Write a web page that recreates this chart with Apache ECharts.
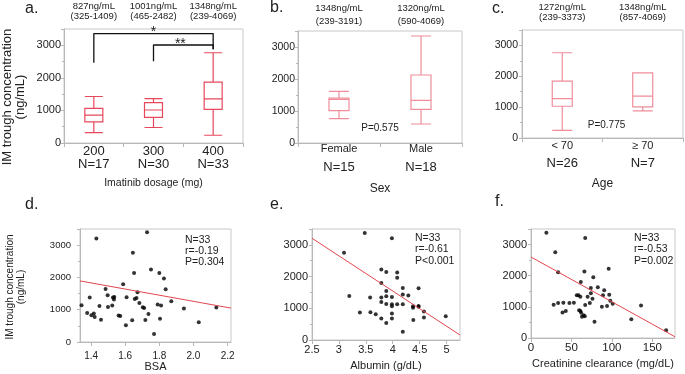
<!DOCTYPE html>
<html>
<head>
<meta charset="utf-8">
<script src="https://cdn.jsdelivr.net/npm/echarts@6/dist/echarts.min.js"></script>
<style>
html, body { margin: 0; padding: 0; background: #fff; }
#chart { width: 685px; height: 374px; }
</style>
</head>
<body>
<div id="chart"></div>
<script>
// panel a - dose groups
var doseCats = ['200', '300', '400'];
var doseN = ['N=17', 'N=30', 'N=33'];
var doseSummary = ['827ng/mL\n(325-1409)', '1001ng/mL\n(465-2482)', '1348ng/mL\n(239-4069)'];
var doseBox = [[320, 651, 858, 1065, 1427], [476, 786, 1013, 1241, 1365], [238, 1034, 1355, 1872, 2771]];
var bracketOne = [[0, 2460], [0, 3360], [2, 3360], [2, 2875]];
var bracketTwo = [[1, 2513], [1, 3009], [2, 3009], [2, 2875]];

// panel b - sex
var sexCats = ['Female', 'Male'];
var sexN = ['N=15', 'N=18'];
var sexSummary = ['1348ng/mL\n(239-3191)', '1320ng/mL\n(590-4069)'];
var sexBox = [[760, 1010, 1365, 1406, 1615], [594, 1052, 1333, 2125, 3344]];

// panel c - age
var ageCats = ['< 70', '\u2265 70'];
var ageN = ['N=26', 'N=7'];
var ageSummary = ['1272ng/mL\n(239-3373)', '1348ng/mL\n(857-4069)'];
var ageBox = [[249, 1029, 1278, 1842, 2762], [878, 1008, 1354, 2113, 2113]];

// panel d - BSA
var bsaX = [1.344, 1.377, 1.392, 1.402, 1.416, 1.421, 1.431, 1.449, 1.458, 1.485, 1.497, 1.499, 1.524, 1.528, 1.534,
  1.536, 1.561, 1.571, 1.588, 1.604, 1.608, 1.641, 1.645, 1.652, 1.656, 1.666, 1.672, 1.683, 1.703, 1.711, 1.718,
  1.728, 1.736, 1.751, 1.769, 1.790, 1.800, 1.804, 1.810, 1.827, 1.837, 1.870, 1.944, 2.031, 2.134];
var bsaY = [1138, 900, 1375, 827, 879, 776, 3206, 1117, 693, 1644, 1448, 1086, 1127, 1375, 1313,
  1396, 817, 807, 1789, 517, 1386, 672, 2761, 2141, 1334, 1365, 1541, 1210, 1075, 1055, 683,
  3402, 869, 2244, 248, 1158, 2141, 724, 1127, 1965, 1634, 1262, 1034, 610, 1065];
var bsaFit = [[1.335, 1892], [2.22, 1050]];

// panel e - albumin
var albX = [3.095, 3.193, 3.39, 3.48, 3.58, 3.586, 3.684, 3.788, 3.788, 3.788, 3.788, 3.788, 3.88, 3.88, 3.88,
  3.88, 3.88, 3.985, 3.985, 3.985, 3.985, 3.985, 3.985, 4.083, 4.083, 4.083, 4.187, 4.187, 4.187, 4.187,
  4.29, 4.377, 4.377, 4.383, 4.48, 4.48, 4.48, 4.58, 4.58, 4.985];
var albY = [2748, 1390, 867, 3375, 1337, 878, 815, 2226, 1797, 1337, 1202, 679, 2142, 1546, 1379,
  1139, 533, 3208, 1358, 1128, 1066, 836, 679, 2132, 1965, 1128, 1640, 1432, 1128, 261,
  1400, 1066, 1014, 627, 1630, 1076, 1045, 899, 711, 752];
var albFit = [[2.5, 3208], [5.25, 157]];

// panel f - creatinine clearance
var crclX = [19, 30, 28, 33.5, 33.5, 40, 39, 43, 47.5, 53, 56.6, 58.7, 61, 59.5, 61, 62, 61.6, 63, 65, 66.5, 66,
  67, 67, 70, 72.7, 74, 74, 76, 77, 78.5, 82.6, 87.6, 89, 90.5, 94, 96, 96.7, 98, 101, 124, 136, 167];
var crclY = [3377, 2751, 1068, 1122, 2114, 1133, 820, 863, 1122, 1133, 1370, 1370, 1327, 895, 863, 809, 1801,
  680, 734, 701, 2136, 3215, 1057, 1327, 1122, 1607, 1435, 1262, 1952, 518, 1629, 1003, 1370, 1532, 1025,
  2222, 1392, 1197, 1100, 604, 1046, 248];
var crclFit = [[0, 2600], [178, 40]];

var statsText = ['N=33\nr=-0.19\nP=0.304', 'N=33\nr=-0.61\nP<0.001', 'N=33\nr=-0.53\nP=0.002'];
var yTitle = 'IM trough concentration\n(ng/mL)';

var FONT = '"Liberation Sans", Arial, sans-serif';
var AX = '#b8b8b8';
var TXT = '#222';

function zip(xs, ys) {
  var res = [];
  for (var i = 0; i < xs.length; i++) res.push([xs[i], ys[i]]);
  return res;
}

function grid(l, t, w, h) {
  return { left: l, top: t, width: w, height: h, show: true, borderColor: '#c8c8c8', borderWidth: 1, backgroundColor: 'transparent' };
}

function concAxis(g, fs, margin) {
  return {
    type: 'value', gridIndex: g, min: 0, max: 3500, interval: 1000,
    axisLine: { show: true, lineStyle: { color: AX } },
    axisTick: { show: true, length: 3, lineStyle: { color: AX } },
    minorTick: { show: true, splitNumber: 2, length: 2, lineStyle: { color: AX } },
    splitLine: { show: false },
    axisLabel: { fontFamily: FONT, fontSize: fs, color: TXT, margin: margin,
      formatter: function (v) { return v > 3000 ? '' : String(v); } }
  };
}

function catAxis(g, cats, ns, lh1, fs1, lh2, margin, name, nameFs, nameGap) {
  return {
    type: 'category', gridIndex: g, data: cats,
    axisLine: { show: true, lineStyle: { color: AX } },
    axisTick: { show: true, length: 4, lineStyle: { color: AX } },
    axisLabel: {
      interval: 0, hideOverlap: false,
      margin: margin, color: TXT, fontFamily: FONT,
      formatter: function (v, i) { return '{a|' + v + '}\n{n|' + ns[i] + '}'; },
      rich: {
        a: { fontFamily: FONT, fontSize: fs1, lineHeight: lh1, color: TXT },
        n: { fontFamily: FONT, fontSize: 13, lineHeight: lh2, color: TXT }
      }
    },
    name: name, nameLocation: 'middle', nameGap: nameGap,
    nameTextStyle: { fontFamily: FONT, fontSize: nameFs, color: TXT }
  };
}

function topAxis(g, labels, lh, margin) {
  return {
    type: 'category', gridIndex: g, position: 'top', data: labels,
    axisLine: { show: false }, axisTick: { show: false },
    axisLabel: { interval: 0, hideOverlap: false, margin: margin, fontFamily: FONT, fontSize: 9.5, lineHeight: lh, color: TXT }
  };
}

function valAxis(g, min, max, ticks, fs, margin, name, nameGap, fmt) {
  return {
    type: 'value', gridIndex: g, min: min, max: max,
    axisLine: { show: true, lineStyle: { color: AX } },
    axisTick: { show: true, length: 4, customValues: ticks, lineStyle: { color: AX } },
    splitLine: { show: false },
    axisLabel: { customValues: ticks, fontFamily: FONT, fontSize: fs, color: TXT, margin: margin,
      formatter: fmt || function (v) { return String(v); } },
    name: name, nameLocation: 'middle', nameGap: nameGap,
    nameTextStyle: { fontFamily: FONT, fontSize: 11, color: TXT }
  };
}

function boxSeries(ax, data, color, w) {
  return {
    type: 'boxplot', xAxisIndex: ax, yAxisIndex: ax, data: data, boxWidth: [w, w],
    itemStyle: { color: '#fff', borderColor: color, borderWidth: 1.2 },
    silent: true
  };
}

function lineSeries(ax, data, color, width) {
  return {
    type: 'line', xAxisIndex: ax, yAxisIndex: ax, data: data, symbol: 'none', silent: true,
    lineStyle: { color: color, width: width }
  };
}

function dotSeries(ax, data) {
  return {
    type: 'scatter', xAxisIndex: ax, yAxisIndex: ax, data: data, symbolSize: 4,
    itemStyle: { color: '#000' }, silent: true
  };
}

var chart = echarts.init(document.getElementById('chart'), null, { renderer: 'canvas' });

var oneDec = function (v) { return v.toFixed(1); };

chart.setOption({
  animation: false,
  grid: [
    grid(64, 29, 179, 114),
    grid(298, 31, 164, 112),
    grid(522, 30, 161, 108),
    grid(80, 229, 151, 113),
    grid(312, 229, 148, 111),
    grid(531, 229, 144, 109)
  ],
  xAxis: [
    catAxis(0, doseCats, doseN, 12, 13, 14, 2, 'Imatinib dosage (mg)', 10.5, 35),
    catAxis(1, sexCats, sexN, 12, 11, 24, 0, 'Sex', 12, 40),
    catAxis(2, ageCats, ageN, 12, 11, 22, 2, 'Age', 12, 40),
    valAxis(3, 1.335, 2.22, [1.4, 1.6, 1.8, 2.0, 2.2], 10, 9, 'BSA', 19, oneDec),
    valAxis(4, 2.5, 5.25, [2.5, 3, 3.5, 4, 4.5, 5], 11, 4, 'Albumin (g/dL)', 20),
    valAxis(5, 0, 178, [0, 50, 100, 150], 11.5, 4, 'Creatinine clearance (mg/dL)', 20),
    topAxis(0, doseSummary, 10, 8),
    topAxis(1, sexSummary, 13, 3.5),
    topAxis(2, ageSummary, 10, 7.5)
  ],
  yAxis: [
    concAxis(0, 11, 3),
    concAxis(1, 10.5, 3),
    concAxis(2, 10.5, 4),
    concAxis(3, 9.5, 9),
    concAxis(4, 11, 4),
    concAxis(5, 11, 4)
  ],
  series: [
    boxSeries(0, doseBox, '#e8485c', 18),
    lineSeries(0, bracketOne, '#111', 1.3),
    lineSeries(0, bracketTwo, '#111', 1.3),
    boxSeries(1, sexBox, '#ef8d9a', 20),
    boxSeries(2, ageBox, '#ef8d9a', 20),
    dotSeries(3, zip(bsaX, bsaY)),
    lineSeries(3, bsaFit, '#e0464f', 1),
    dotSeries(4, zip(albX, albY)),
    lineSeries(4, albFit, '#e0464f', 1),
    dotSeries(5, zip(crclX, crclY)),
    lineSeries(5, crclFit, '#e0464f', 1)
  ]
});

// annotations placed from the axes
function px(ax, pt) { return chart.convertToPixel({ xAxisIndex: ax, yAxisIndex: ax }, pt); }
function mid(ax, a, b, y) {
  var p = px(ax, [a, y]), q = px(ax, [b, y]);
  return [(p[0] + q[0]) / 2, p[1]];
}
function txt(x, y, s, fs, align, vAlign, lh, rot) {
  return { type: 'text', x: x, y: y, rotation: rot || 0, silent: true,
    style: { text: s, fontFamily: FONT, fontSize: fs, fill: TXT, align: align || 'left',
      verticalAlign: vAlign || 'middle', lineHeight: lh || fs } };
}

var star1 = mid(0, 0, 2, 3360);
var star2 = mid(0, 1, 2, 3009);
var pSex = mid(1, 0, 1, 450);
var pAge = mid(2, 0, 1, 420);

chart.setOption({
  graphic: [
    txt(25, 9, 'a.', 16),
    txt(270, 8, 'b.', 16),
    txt(492, 9, 'c.', 16),
    txt(25, 205, 'd.', 16),
    txt(270, 205, 'e.', 16),
    txt(495, 202, 'f.', 16),
    txt(14, 97, yTitle, 13, 'center', 'middle', 13, Math.PI / 2),
    txt(16, 287, yTitle, 10, 'center', 'middle', 11, Math.PI / 2),
    txt(star1[0], star1[1] - 1, '*', 14, 'center'),
    txt(star2[0] - 3, star2[1] - 1, '**', 14, 'center'),
    txt(pSex[0], pSex[1], 'P=0.575', 10, 'center'),
    txt(pAge[0] + 4, pAge[1], 'P=0.775', 10, 'center'),
    txt(185, 234.5, statsText[0], 10.5, 'left', 'top', 11),
    txt(415, 232, statsText[1], 10.5, 'left', 'top', 11.5),
    txt(634, 232, statsText[2], 10.5, 'left', 'top', 11.5)
  ]
});
</script>
</body>
</html>
